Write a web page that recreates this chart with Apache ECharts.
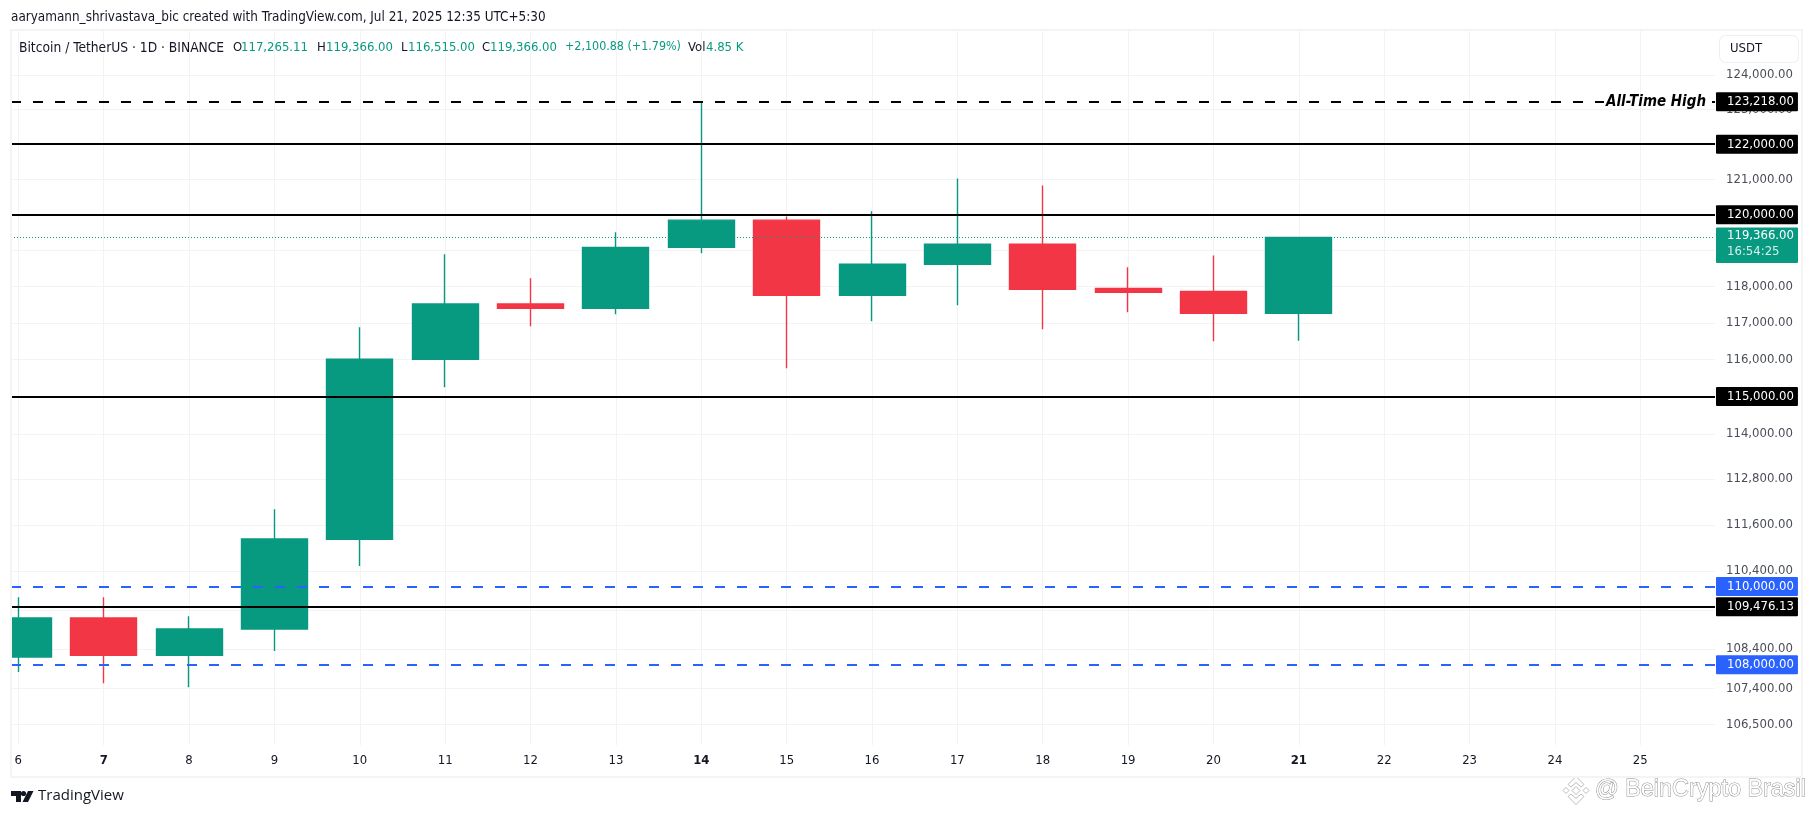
<!DOCTYPE html>
<html><head><meta charset="utf-8">
<style>html,body{margin:0;padding:0;background:#fff}#c{width:1813px;height:816px}</style>
<script src="https://cdn.jsdelivr.net/npm/echarts@6/dist/echarts.min.js"></script>
</head><body><div id="c"></div>
<script>
const days   = [6,7,8,9,10,11,12,13,14,15,16,17,18,19,20,21];
const opens  = [108200,109190,108244,108910,111222,116008,117520,117400,119089,119850,117758,118616,119180,117950,117868,117265.11];
const closes = [109190,108244,108910,111230,116010,117520,117400,119090,119850,117758,118620,119180,117923,117840,117265,119366];
const lows   = [107822,107538,107437,108353,110530,115251,116907,117236,118922,115765,117044,117484,116826,117291,116500,116515];
const highs  = [109723,109723,109236,112005,116880,118894,118228,119508,123218,119955,120097,121025,120830,118533,118866,119366];
const yTicks = [124000,123000,122000,121000,120000,119000,118000,117000,116000,115000,114000,112800,111600,110400,109400,108400,107400,106500];
const xTicks = [6,7,8,9,10,11,12,13,14,15,16,17,18,19,20,21,22,23,24,25];
const boldDays = [7,14,21];
const solidLevels = [122000,120000,115000,109476.13];
const athLevel = 123218;
const blueLevels = [110000,108000];
const lastPrice = 119366;
const countdown = '16:54:25';
const titleText = 'aaryamann_shrivastava_bic created with TradingView.com, Jul 21, 2025 12:35 UTC+5:30';
const headerParts = [
 ['Bitcoin / TetherUS · 1D · BINANCE','#131722',19,13.7],['O','#131722',233,13],['117,265.11','#089981',241,13],
 ['H','#131722',317,13],['119,366.00','#089981',326,13],['L','#131722',401,13],['116,515.00','#089981',408,13],
 ['C','#131722',482,13],['119,366.00','#089981',490,13],['+2,100.88 (+1.79%)','#089981',565,12.4],
 ['Vol','#131722',688,13],['4.85 K','#089981',706,13]
];
const FONT='"DejaVu Sans Condensed","DejaVu Sans",sans-serif';
const GREEN='#089981',RED='#F23645',BLUE='#2962FF',GRID='#f3f3f4';
const fmt=v=>v.toLocaleString('en-US',{minimumFractionDigits:2,maximumFractionDigits:2});
const tag=(bg)=>({show:true,position:'end',distance:1,formatter:p=>fmt(p.value),color:'#fff',backgroundColor:bg,
  fontFamily:FONT,fontSize:13,padding:[3,4,3,11],borderRadius:1,lineHeight:13});
const level=(v,color,type)=>({yAxis:v,lineStyle:{color,width:2,type},label:tag(color)});
const chart=echarts.init(document.getElementById('c'),null,{renderer:'canvas'});
chart.setOption({
 animation:false,backgroundColor:'#fff',
 title:[{text:titleText,left:11,top:11,padding:0,textStyle:{fontFamily:FONT,fontSize:13.4,fontWeight:'normal',color:'#131722'}}]
   .concat(headerParts.map(p=>({text:p[0],left:p[2],top:41,padding:0,textStyle:{fontFamily:FONT,fontSize:p[3],fontWeight:'normal',color:p[1]}}))),
 grid:{left:11,right:98,top:30.5,bottom:70.8,containLabel:false},
 xAxis:{type:'value',min:5.914,max:25.875,scale:true,
   axisLine:{show:false},axisTick:{show:false,customValues:xTicks},
   splitLine:{show:true,lineStyle:{color:GRID,width:1}},
   axisLabel:{customValues:xTicks,margin:9,fontFamily:FONT,fontSize:13,color:'#131722',
     formatter:v=>boldDays.includes(v)?'{b|'+v+'}':''+v,rich:{b:{fontFamily:FONT,fontSize:13,fontWeight:'bold',color:'#131722'}},showMinLabel:true,showMaxLabel:true}},
 yAxis:{type:'log',position:'right',min:105987,max:125292,
   axisLine:{show:false},axisTick:{show:false,customValues:yTicks},
   splitLine:{show:true,lineStyle:{color:GRID,width:1}},
   axisLabel:{customValues:yTicks,margin:11,fontFamily:FONT,fontSize:13,color:'#4a4e57',formatter:v=>fmt(v),showMinLabel:true,showMaxLabel:true}},
 series:[{type:'candlestick',barWidth:66.5,clip:true,
   data:days.map((d,i)=>[d,opens[i],closes[i],lows[i],highs[i]]),
   itemStyle:{color:GREEN,color0:RED,borderColor:GREEN,borderColor0:RED,borderWidth:1.4},
   markLine:{silent:true,symbol:'none',animation:false,
     data:[level(athLevel,'#000',[10,12])]
       .concat(solidLevels.map(v=>level(v,'#000','solid')))
       .concat(blueLevels.map(v=>level(v,BLUE,[10,12])))
       .concat([{yAxis:lastPrice,lineStyle:{color:GREEN,width:1,type:[1,2]},label:{show:false}}])}
 }]
});
const py=chart.convertToPixel({yAxisIndex:0},lastPrice), ay=chart.convertToPixel({yAxisIndex:0},athLevel);
const diamond=(cx,cy,r)=>[[cx,cy-r],[cx+r,cy],[cx,cy+r],[cx-r,cy]];
const wm={fill:'#fff',stroke:'#bdbdbd',lineWidth:1};
const bx=1576,by=790.5;
chart.setOption({graphic:[
 {type:'rect',z:20,silent:true,shape:{x:0,y:31,width:10,height:716},style:{fill:'#fff'}},
 {type:'rect',z:22,silent:true,shape:{x:11,y:30,width:1791,height:747},style:{fill:'none',stroke:'#f4f4f5',lineWidth:2}},
 {type:'rect',z:5,shape:{x:1719.5,y:35.5,width:79,height:27,r:6},style:{fill:'#fff',stroke:'#eceef2',lineWidth:1}},
 {type:'text',z:6,style:{x:1730,y:49,text:'USDT',font:'13px '+FONT,fill:'#131722',textVerticalAlign:'middle'}},
 {type:'rect',z:20,shape:{x:1716,y:py-10,width:82,height:35.5,r:1},style:{fill:GREEN}},
 {type:'text',z:21,style:{x:1727,y:py-1.5,text:fmt(lastPrice),font:'13px '+FONT,fill:'#fff',textVerticalAlign:'middle'}},
 {type:'text',z:21,style:{x:1727,y:py+14.5,text:countdown,font:'13px '+FONT,fill:'#d5efe9',textVerticalAlign:'middle'}},
 {type:'rect',z:20,shape:{x:1604,y:ay-3,width:108,height:6},style:{fill:'#fff'}},
 {type:'text',z:21,style:{x:1606,y:ay,text:'All-Time High',font:'italic bold 15px '+FONT,fill:'#000',textVerticalAlign:'middle'}},
 {type:'polygon',z:6,shape:{points:[[11,791],[21,791],[21,802],[16,802],[16,796],[11,796]]},style:{fill:'#131722'}},
 {type:'circle',z:6,shape:{cx:23.5,cy:793.5,r:2.6},style:{fill:'#131722'}},
 {type:'polygon',z:6,shape:{points:[[28,791],[33.5,791],[28,802],[22.5,802]]},style:{fill:'#131722'}},
 {type:'text',z:6,style:{x:38,y:796,text:'TradingView',font:'15px "Open Sans",sans-serif',fill:'#131722',textVerticalAlign:'middle'}},
 {type:'text',z:6,style:{x:1595,y:790,text:'@ BeinCrypto Brasil',font:'23.4px "Liberation Sans",sans-serif',fill:'#fff',stroke:'#8f8f8f',lineWidth:1,textVerticalAlign:'middle'}},
 {type:'polygon',z:6,shape:{points:diamond(bx,by,4)},style:wm},
 {type:'polygon',z:6,shape:{points:diamond(bx-10,by,3)},style:wm},
 {type:'polygon',z:6,shape:{points:diamond(bx+10,by,3)},style:wm},
 {type:'polyline',z:6,shape:{points:[[bx-8,by-6],[bx,by-14],[bx+8,by-6],[bx+5,by-3.5],[bx,by-8],[bx-5,by-3.5],[bx-8,by-6]]},style:wm},
 {type:'polyline',z:6,shape:{points:[[bx-8,by+6],[bx,by+14],[bx+8,by+6],[bx+5,by+3.5],[bx,by+8],[bx-5,by+3.5],[bx-8,by+6]]},style:wm}
]});
</script></body></html>
